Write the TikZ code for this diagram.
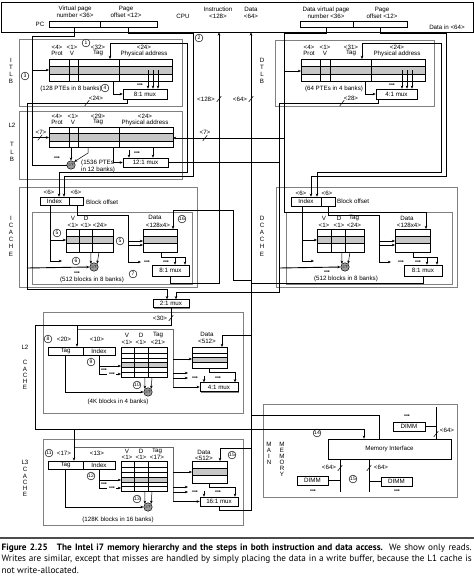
\documentclass[tikz,border=0pt]{standalone}
\usepackage{fontspec}
\setmainfont{Liberation Sans}
\newfontfamily\capfont{PT Sans}
\usetikzlibrary{arrows.meta,shadows,positioning}

\newcommand\busmark[2]{\draw[wire] (#1-2.2,#2+2.8) -- (#1+2.2,#2-2.8);}

\tikzset{
  unitbox/.style={draw=black!50,line width=0.6pt},
  sig/.style={draw=black,line width=0.9pt},
  wire/.style={draw=black,line width=0.5pt},
  arr/.style={-{Stealth[length=3.2pt,width=2.6pt]}},
  lbl/.style={font=\fontsize{6.2}{7}\selectfont,inner sep=0pt},
  vlbl/.style={font=\fontsize{6.2}{7.2}\selectfont,inner sep=0pt,align=center},
  dotrow/.style={font=\fontsize{5.6}{6}\selectfont,inner sep=0pt},
  num/.style={circle,draw=black,line width=0.45pt,fill=white,inner sep=0pt,minimum size=7.8pt,font=\fontsize{5}{6}\selectfont},
  cmp/.style={circle,draw=black,line width=0.45pt,fill=black!40,inner sep=0pt,minimum size=8.5pt,font=\fontsize{4.4}{5}\selectfont},
  reg/.style={draw=black,line width=0.5pt,fill=white,inner sep=0pt,font=\fontsize{6.2}{7}\selectfont},
  mux/.style={reg,drop shadow={shadow xshift=1.2pt,shadow yshift=-1.2pt,fill=black!50,opacity=1}},
  graycell/.style={fill=black!22},
  cellline/.style={draw=black,line width=0.45pt},
}

\begin{document}
\begin{tikzpicture}[x=1pt,y=-1pt]
\useasboundingbox (0,0) rectangle (474,579);

% CPU
\node[draw,line width=0.8pt,inner sep=0pt,minimum width=472pt,minimum height=30pt] (cpu) at (237,17) {};
\node[lbl,align=center] (vpnlbl) at (75,11.5) {Virtual page\\number <36>};
\node[lbl,align=center] (offlbl) at (126,11.5) {Page\\offset <12>};
\node[lbl] (pclbl) at (40,24) {PC};
\node[lbl] (cpulbl) at (183,16) {CPU};
\node[lbl,align=center] (inslbl) at (218,12.5) {Instruction\\<128>};
\node[lbl,align=center] (datlbl) at (251,12.5) {Data\\<64>};
\node[lbl,align=center] (dvpnlbl) at (326,12.5) {Data virtual page\\number <36>};
\node[lbl,align=center] (dofflbl) at (382,12.5) {Page\\offset <12>};
\node[lbl] (dinlbl) at (447,27) {Data in <64>};
\node[reg,minimum width=51pt,minimum height=6pt] (vpn) at (74.5,24) {};
\node[reg,minimum width=57pt,minimum height=6pt] (poff) at (128.5,24) {};
\node[reg,minimum width=53pt,minimum height=6pt] (dvpn) at (326.5,24) {};
\node[reg,minimum width=54pt,minimum height=6pt] (doff) at (380,24) {};
\node[num] (s2) at (199,38) {2};

% ITLB
\draw[unitbox] (19,39) rectangle (182,106);
\node[vlbl] (itl) at (11,71) {I\\T\\L\\B};
\node[num] (s1) at (86,43) {1};
\node[num] (s3) at (25,76) {3};
\foreach \x/\w/\f [count=\i] in {57/<4>/Prot,72/<1>/V,98/<32>/Tag,144/<24>/Physical address}{
  \node[lbl] (itw\i) at (\x,47) {\w};
  \node[lbl] (itf\i) at (\x,53.5) {\f};}
\fill[graycell] (49,66) rectangle (172,74);
\draw[cellline] (49,59) rectangle (172,81) (49,66) -- (172,66) (49,74) -- (172,74);
\foreach \c in {69,78,119} \draw[cellline] (\c,59) -- (\c,81);
\node[lbl] (itnote) at (71,89) {(128 PTEs in 8 banks)};
\node[num] (s4) at (105,88) {4};
\node[mux,minimum width=44pt,minimum height=10pt] (itmux) at (145,94) {8:1 mux};
\node[dotrow] (itdots) at (140,85) {•••};
\foreach \x in {148,153,158} \draw[wire,arr] (\x,70) -- (\x,0 |- itmux.north);
\draw[wire,arr] (113,81) |- (itmux.west);
\node[lbl] (it24) at (96,98.5) {<24>};

% L2 TLB
\draw[unitbox] (19,111) rectangle (182,179);
\node[vlbl] (l2tl) at (12,125) {L2};
\node[vlbl] (l2tv) at (12,152) {T\\L\\B};
\foreach \x/\w/\f [count=\i] in {57/<4>/Prot,73/<1>/V,98/<29>/Tag,145/<24>/Physical address}{
  \node[lbl] (l2tw\i) at (\x,116) {\w};
  \node[lbl] (l2tf\i) at (\x,122.5) {\f};}
\fill[graycell] (49,133) rectangle (173,141);
\draw[cellline] (49,127) rectangle (173,147) (49,133) -- (173,133) (49,141) -- (173,141);
\foreach \c in {69,78,119} \draw[cellline] (\c,127) -- (\c,147);
\node[lbl] (l2t7a) at (41,132) {<7>};
\node[lbl] (l2t7b) at (205,132) {<7>};
\node[dotrow] (l2tdots) at (57,158) {•••};
\node[cmp] (l2tcmp) at (71,165) {=?};
\node[lbl,align=left,anchor=west] (l2tnote) at (81,166) {(1536 PTEs\\in 12 banks)};
\node[mux,minimum width=45pt,minimum height=9pt] (l2tmux) at (145.5,162.5) {12:1 mux};
\node[dotrow] (l2tdots2) at (137,153.5) {•••};
\draw[wire,arr] (71,147) -- (l2tcmp.north);
\draw[wire,arr] (88,147) -- (88,153) -- (l2tcmp.north east);
\draw[wire,arr] (129,150) -- (129,0 |- l2tmux.north);
\draw[wire,arr] (153,147) -- (153,0 |- l2tmux.north);
\draw[wire,arr] (113,147) |- (l2tmux.west);

% DTLB
\draw[unitbox] (275,40) rectangle (434,106);
\node[vlbl] (dtl) at (262,71) {D\\T\\L\\B};
\foreach \x/\w/\f [count=\i] in {309/<4>/Prot,325/<1>/V,351/<31>/Tag,397/<24>/Physical address}{
  \node[lbl] (dtw\i) at (\x,47) {\w};
  \node[lbl] (dtf\i) at (\x,53.5) {\f};}
\fill[graycell] (301,66) rectangle (425,74);
\draw[cellline] (301,59) rectangle (425,81) (301,66) -- (425,66) (301,74) -- (425,74);
\foreach \c in {320,330,371} \draw[cellline] (\c,59) -- (\c,81);
\node[lbl] (dtnote) at (334,89) {(64 PTEs in 4 banks)};
\node[mux,minimum width=41pt,minimum height=10pt] (dtmux) at (396.5,94) {4:1 mux};
\node[dotrow] (dtdots) at (392,85) {•••};
\foreach \x in {402,407,412} \draw[wire,arr] (\x,70) -- (\x,0 |- dtmux.north);
\draw[wire,arr] (365,81) |- (dtmux.west);
\node[lbl] (dt28) at (351,98.5) {<28>};

% I-cache
\draw[unitbox] (19,187) rectangle (197,287);
\draw[unitbox] (32,212) rectangle (192,284);
\node[vlbl] (icl) at (11,236) {I\\C\\A\\C\\H\\E};
\node[reg,minimum width=29pt,minimum height=8pt] (iidx) at (54.5,201) {Index};
\node[reg,minimum width=14pt,minimum height=8pt] (iboff) at (76,201) {};
\node[lbl] (ii6) at (49,192.5) {<6>};
\node[lbl] (ib6) at (76,192.5) {<6>};
\node[lbl,anchor=west] (iboffl) at (86,202) {Block offset};
\foreach \x/\f/\w [count=\i] in {73/V/<1>,86/D/<1>,100//<24>}{
  \node[lbl] (icf\i) at (\x,218) {\f};
  \node[lbl] (icw\i) at (\x,225) {\w};}
\fill[graycell] (66,236) rectangle (113,243);
\draw[cellline] (66,229) rectangle (113,252) (66,236) -- (113,236) (66,243) -- (113,243);
\foreach \c in {79,92} \draw[cellline] (\c,229) -- (\c,252);
\node[num] (s5a) at (57,233) {5};
\node[num] (s5b) at (120,241) {5};
\node[num] (s6) at (76,261) {6};
\node[cmp] (icmp) at (94,267) {=?};
\node[dotrow] (icdots) at (77,273) {•••};
\draw[wire,arr] (50,205) |- (66,240);
\draw[wire,arr] (50,240) |- (62,261);
\draw[wire,arr] (91,252) -- (icmp.north west);
\draw[wire,arr] (99,252) -- (icmp.north east);
\draw[wire] (77,205) -- (77,215) -- (128,215) -- (128,262);
\draw[wire,arr] (128,241) -- (143,241);
\draw[wire,arr] (128,245) -- (143,245);
\draw[wire,arr] (128,262) -- (141,262);
\fill[graycell] (143,236) rectangle (177,243);
\draw[cellline] (143,229) rectangle (177,252) (143,236) -- (177,236) (143,243) -- (177,243);
\node[lbl] (icdata) at (155,217) {Data};
\node[lbl] (icdw) at (158,225) {<128x4>};
\node[num] (s16) at (182,219) {16};
\node[mux,minimum width=37pt,minimum height=11pt] (imux) at (170.5,270.5) {8:1 mux};
\node[dotrow] (icd1) at (147,262) {•••};
\node[dotrow] (icd2) at (166,262) {•••};
\draw[wire,arr] (161,252) -- (161,257) -| (185,0 |- imux.north);
\draw[wire,arr] (175,257) -- (175,0 |- imux.north);
\node[num] (s7) at (133,274) {7};
\node[lbl] (icnote) at (92,280) {(512 blocks in 8 banks)};

% D-cache
\draw[unitbox] (276,187) rectangle (457,287);
\draw[unitbox] (286,212) rectangle (452,284);
\node[vlbl] (dcl) at (262,236) {D\\C\\A\\C\\H\\E};
\node[reg,minimum width=30pt,minimum height=9pt] (didx) at (306,201.5) {Index};
\node[reg,minimum width=14pt,minimum height=9pt] (dboff) at (328,201.5) {};
\node[lbl] (di6) at (301,193) {<6>};
\node[lbl] (db6) at (327,193) {<6>};
\node[lbl,anchor=west] (dboffl) at (337,201.5) {Block offset};
\foreach \x/\f/\w [count=\i] in {324/V/<1>,339/D/<1>,354/Tag/<24>}{
  \node[lbl] (dcf\i) at (\x,218) {\f};
  \node[lbl] (dcw\i) at (\x,225) {\w};}
\fill[graycell] (317,236) rectangle (364,243);
\draw[cellline] (317,229) rectangle (364,252) (317,236) -- (364,236) (317,243) -- (364,243);
\foreach \c in {331,345} \draw[cellline] (\c,229) -- (\c,252);
\node[cmp] (dcmp) at (345,267) {=?};
\node[dotrow] (dcdots) at (327,272) {•••};
\node[lbl] (dcnote) at (346,279) {(512 blocks in 8 banks)};
\draw[wire,arr] (302,206) |- (317,240);
\draw[wire,arr] (302,240) |- (314,261);
\draw[wire,arr] (342,252) -- (dcmp.north west);
\draw[wire,arr] (350,252) -- (dcmp.north east);
\draw[wire] (328,206) -- (328,215) -- (379,215) -- (379,262);
\draw[wire,arr] (379,241) -- (395,241);
\draw[wire,arr] (379,245) -- (395,245);
\draw[wire,arr] (379,262) -- (391,262);
\fill[graycell] (395,236) rectangle (430,243);
\draw[cellline] (395,229) rectangle (430,252) (395,236) -- (430,236) (395,243) -- (430,243);
\node[lbl] (dcdata) at (407,218) {Data};
\node[lbl] (dcdw) at (409,225) {<128x4>};
\node[mux,minimum width=38pt,minimum height=11pt] (dmux) at (423,270.5) {8:1 mux};
\node[dotrow] (dcd1) at (401,262) {•••};
\node[dotrow] (dcd2) at (418,262) {•••};
\draw[wire,arr] (413,252) -- (413,257) -| (437,0 |- dmux.north);
\draw[wire,arr] (427,257) -- (427,0 |- dmux.north);

% 2:1 mux
\node[mux,minimum width=36pt,minimum height=8pt] (mux21) at (171,303.5) {2:1 mux};
\node[lbl] (a30) at (160,318) {<30>};

% L2 cache
\draw[unitbox] (43,312) rectangle (243,413);
\node[vlbl] (l2cl) at (25,347) {L2};
\node[vlbl,font=\fontsize{6.2}{6.1}\selectfont] (l2cv) at (25,375) {C\\A\\C\\H\\E};
\node[num] (s8) at (48,339) {8};
\node[lbl] (l2a20) at (64,339) {<20>};
\node[lbl] (l2a10) at (97,339) {<10>};
\node[reg,minimum width=35pt,minimum height=8pt] (l2tag) at (65.5,351) {Tag};
\node[reg,minimum width=32pt,minimum height=8pt] (l2idx) at (99,351) {Index};
\node[num] (s9) at (91,362) {9};
\foreach \x/\f/\w [count=\i] in {127/V/<1>,141/D/<1>,158/Tag/<21>}{
  \node[lbl] (l2f\i) at (\x,335) {\f};
  \node[lbl] (l2w\i) at (\x,342) {\w};}
\fill[graycell] (121,362) rectangle (167,367);
\draw[cellline] (121,347) rectangle (167,377);
\foreach \r in {353,358,362,367,372} \draw[cellline] (121,\r) -- (167,\r);
\foreach \c in {134,148} \draw[cellline] (\c,347) -- (\c,377);
\draw[wire,arr] (99,355) |- (121,366);
\draw[wire] (99,366) |- (107,374);
\node[dotrow] (l2d0) at (104,370) {•••};
\node[dotrow] (l2d1) at (112,374) {•••};
\draw[wire,arr] (116,374) -- (121,374);
\node[cmp] (l2cmp) at (148,392) {=?};
\node[num] (s10) at (137,385) {10};
\draw[wire,arr] (145,377) -- (l2cmp.north west);
\draw[wire,arr] (152,377) -- (l2cmp.north east);
\draw[wire,arr] (l2tag.south) |- (l2cmp.west);
\node[lbl] (l2note) at (118,402) {(4K blocks in 4 banks)};
\fill[graycell] (192,357) rectangle (227,362);
\draw[cellline] (192,347) rectangle (227,368) (192,353) -- (227,353) (192,357) -- (227,357) (192,362) -- (227,362);
\node[lbl] (l2data) at (207,334) {Data};
\node[lbl] (l2dw) at (207,341) {<512>};
\node[mux,minimum width=38pt,minimum height=9pt] (l2mux) at (219,387) {4:1 mux};
\draw[draw=black!60,line width=0.5pt] (77,329) -- (173,329) -- (173,387);
\draw[wire,arr] (173,359) -- (192,359);
\draw[wire,arr] (173,373) -- (188,373);
\draw[wire,arr] (173,378) -- (188,378);
\draw[wire,arr] (173,387) -- (l2mux.west);
\node[dotrow] (l2d2) at (195,378) {•••};
\node[dotrow] (l2d3) at (218,378) {•••};
\draw[wire,arr] (209,368) -- (209,372) -| (235,0 |- l2mux.north);
\draw[wire,arr] (204,376) -- (204,0 |- l2mux.north);

% L3 cache
\draw[unitbox] (43,439) rectangle (243,525);
\node[vlbl] (l3cl) at (25,462) {L3};
\node[vlbl,font=\fontsize{6.2}{6.1}\selectfont] (l3cv) at (25,482) {C\\A\\C\\H\\E};
\node[num] (s11) at (49,453) {11};
\node[lbl] (l3a17) at (64,453) {<17>};
\node[lbl] (l3a13) at (97,453) {<13>};
\node[reg,minimum width=35pt,minimum height=8pt] (l3tag) at (65.5,465) {Tag};
\node[reg,minimum width=32pt,minimum height=8pt] (l3idx) at (99,465) {Index};
\node[num] (s12) at (91,476) {12};
\foreach \x/\f/\w [count=\i] in {127/V/<1>,141/D/<1>,157/Tag/<17>}{
  \node[lbl] (l3f\i) at (\x,451) {\f};
  \node[lbl] (l3w\i) at (\x,457.5) {\w};}
\fill[graycell] (121,477) rectangle (167,482);
\draw[cellline] (121,461) rectangle (167,491);
\foreach \r in {467,472,477,482,486} \draw[cellline] (121,\r) -- (167,\r);
\foreach \c in {134,148} \draw[cellline] (\c,461) -- (\c,491);
\draw[wire,arr] (99,469) |- (121,480);
\draw[wire] (99,480) |- (107,488);
\node[dotrow] (l3d0) at (104,484) {•••};
\node[dotrow] (l3d1) at (112,488) {•••};
\draw[wire,arr] (116,488) -- (121,488);
\node[cmp] (l3cmp) at (148,507) {=?};
\node[num] (s13) at (137,499) {13};
\draw[wire,arr] (145,491) -- (l3cmp.north west);
\draw[wire,arr] (152,491) -- (l3cmp.north east);
\draw[wire,arr] (l3tag.south) |- (l3cmp.west);
\node[lbl] (l3note) at (118,520) {(128K blocks in 16 banks)};
\fill[graycell] (192,468) rectangle (227,475);
\draw[cellline] (192,461) rectangle (227,483) (192,468) -- (227,468) (192,475) -- (227,475);
\node[lbl] (l3data) at (204,452) {Data};
\node[lbl] (l3dw) at (204,458) {<512>};
\node[num] (s15a) at (232,455) {15};
\node[mux,minimum width=38pt,minimum height=9pt] (l3mux) at (219,501.5) {16:1 mux};
\draw[draw=black!60,line width=0.5pt] (74,447) -- (173,447) -- (173,501.5);
\draw[wire,arr] (173,472) -- (192,472);
\draw[wire,arr] (173,487) -- (188,487);
\draw[wire,arr] (173,492) -- (188,492);
\draw[wire,arr] (173,501.5) -- (l3mux.west);
\node[dotrow] (l3d2) at (195,492) {•••};
\node[dotrow] (l3d3) at (218,492) {•••};
\draw[wire,arr] (209,483) -- (209,487) -| (235,0 |- l3mux.north);
\draw[wire,arr] (204,491) -- (204,0 |- l3mux.north);

% main memory
\draw[unitbox] (263,404) rectangle (457,497);
\node[vlbl,font=\fontsize{6.2}{6}\selectfont] (mainl) at (269,453) {M\\A\\I\\N};
\node[vlbl,font=\fontsize{6.2}{6}\selectfont] (meml) at (282,459) {M\\E\\M\\O\\R\\Y};
\node[mux,minimum width=123pt,minimum height=20pt] (memif) at (389.5,449) {Memory Interface};
\node[mux,minimum width=32pt,minimum height=9pt] (dimm1) at (409,426.5) {DIMM};
\node[mux,minimum width=31pt,minimum height=9pt] (dimm2) at (312.5,480.5) {DIMM};
\node[mux,minimum width=31pt,minimum height=9pt] (dimm3) at (396.5,481.5) {DIMM};
\node[dotrow] (md1) at (407,416) {•••};
\node[dotrow] (md2) at (313,491) {•••};
\node[dotrow] (md3) at (397,491) {•••};
\node[num] (s14) at (317,433) {14};
\node[num] (s15b) at (353,479) {15};
\draw[sig] (436,407) -- (436,0 |- memif.north);
\draw[sig] (dimm1.east) -- (436,426.5);
\busmark{436}{434}
\node[lbl] (m64a) at (447,430) {<64>};
\draw[sig] (340,0 |- memif.south) -- (340,492);
\draw[sig] (dimm2.east) -- (340,480.5);
\busmark{340}{468}
\node[lbl] (m64b) at (329,467) {<64>};
\draw[sig] (369,0 |- memif.south) -- (369,492);
\draw[sig] (369,481.5) -- (dimm3.west);
\busmark{369}{468}
\node[lbl] (m64c) at (381,467) {<64>};

% address and data paths
\draw[sig] (vpn.south) -- (74.5,36) -| (32,165) -- (l2tcmp.west);
\draw[wire,arr] (32,70) -- (49,70);
\draw[wire,arr] (32,137.5) -- (49,137.5);
\busmark{40}{137.5}
\draw[sig,arr] (187,43) -| (110,59);
\draw[sig,arr] (187,43) |- (59,172) -- (59,0 |- iidx.north);
\draw[sig,arr] (poff.south) -- (128.5,33) -| (193,176) -- (64,176) -- (64,0 |- iidx.north);
\draw[sig,arr] (127,99) |- (27,103) -- (27,289) -| ([xshift=-4pt]mux21.north);
\busmark{87}{103}
\draw[sig,arr] (27,268) -- (icmp.west);
\draw[sig] (l2tmux.east) -- (279,162.5);
\draw[wire,arr] (284,138) -- (173,138);
\busmark{205}{138}
\draw[sig,arr] (dvpn.south) -- (326.5,33) -| (284,212) -| (426,229);
\draw[wire,arr] (284,71) -- (301,71);
\draw[sig,arr] (441,43) -| (362,59);
\draw[sig,arr] (441,43) |- (317,172) -- (317,0 |- didx.north);
\draw[sig,arr] (doff.south) -- (380,33) -| (446,176) -- (311,176) -- (311,0 |- didx.north);
\draw[sig,arr] (378,99) |- (279,103) -- (279,292) -| ([xshift=5pt]mux21.north);
\busmark{342}{103}
\draw[sig,arr] (279,268) -- (dcmp.west);
\draw[sig] (dmux.south) -- (423,283) -- (251,283);
\draw[sig,arr] (imux.south) -- (170.5,283) -| (219,0 |- cpu.south);
\busmark{219}{99}
\node[lbl] (i128) at (206,99) {<128>};
\draw[sig,arr] (251,280) -| (233,210) -| (173,229);
\draw[sig,arr] (mux21.south) -- (171,325) -- (35,325) -- (35,429) -- (364,429) -- (364,0 |- memif.north);
\busmark{171}{318}
\draw[sig,arr] (77,325) -- (77,0 |- l2tag.north);
\draw[sig,arr] (74,429) -- (74,0 |- l3tag.north);
\draw[sig,arr] (251,335) -| (222,347);
\draw[sig,arr] (251,448) -| (220,461);
\draw[sig] (379,0 |- memif.north) -- (379,415) -- (251,415);
\draw[sig,arr] (l3mux.south) -- (219,510) -| (251,0 |- cpu.south);
\busmark{251}{99}
\node[lbl] (d64) at (240,99) {<64>};

% caption
\draw[line width=1.4pt,black!70] (0,538) -- (474,538);
\node[anchor=west,inner sep=0pt,font=\capfont\fontsize{9.2}{11}\selectfont] (cap1) at (1.5,548) {\makebox[470pt][s]{\textbf{Figure 2.25\quad The Intel i7 memory hierarchy and the steps in both instruction and data access.} We show only reads.}};
\node[anchor=west,inner sep=0pt,font=\capfont\fontsize{9.2}{11}\selectfont] (cap2) at (1.5,559) {\makebox[470pt][s]{Writes are similar, except that misses are handled by simply placing the data in a write buffer, because the L1 cache is}};
\node[anchor=west,inner sep=0pt,font=\capfont\fontsize{9.2}{11}\selectfont] (cap3) at (1.5,570) {not write-allocated.};
\end{tikzpicture}
\end{document}
